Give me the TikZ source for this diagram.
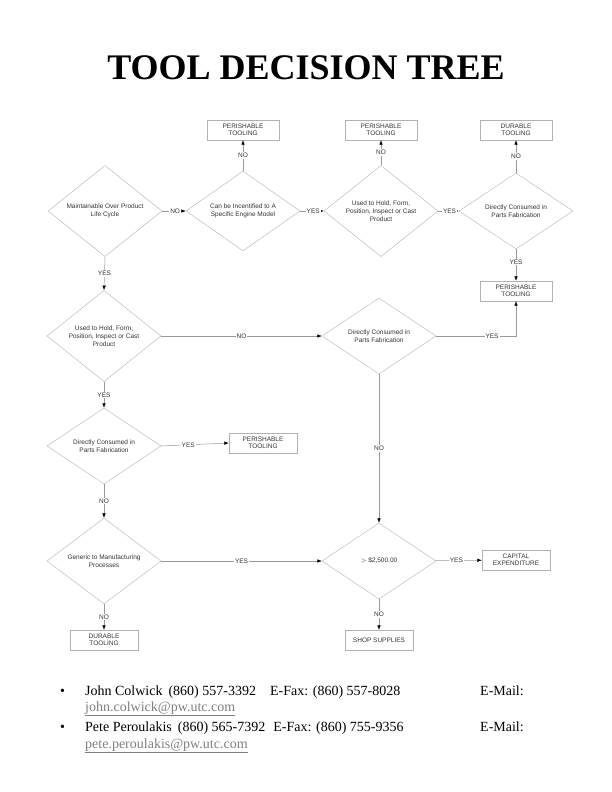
\documentclass[tikz,border=0pt]{standalone}
\usepackage{fontspec}
\setmainfont{Liberation Serif}
\newfontfamily\dsans{Liberation Sans}
\usetikzlibrary{shapes.geometric,arrows.meta}
\begin{document}
\begin{tikzpicture}[x=1pt,y=-1pt,
 dia/.style={draw=gray!60,diamond,minimum width=114pt,minimum height=76pt,inner sep=0pt,align=center,font=\dsans\fontsize{6.5}{8}\selectfont,text=black!80},
 bx/.style={draw=gray!60,minimum width=72pt,minimum height=20pt,inner sep=1pt,align=center,font=\dsans\fontsize{6.5}{7.5}\selectfont,text=black!80},
 ar/.style={draw=gray!80,-{Latex[length=4.5pt,width=3.5pt,color=black]},line width=0.5pt},
 lb/.style={fill=white,inner sep=1pt,font=\dsans\fontsize{6.5}{7.5}\selectfont,text=black!80}]
\useasboundingbox (0,0) rectangle (612,792);
\node[font=\bfseries\fontsize{36}{40}\selectfont] (title) at (306,68) {TOOL DECISION TREE};
% row 1
\node[dia] (d1) at (105,211) {Maintainable Over Product\\Life Cycle};
\node[dia] (d2) at (243,211) {Can be Incentified to A\\Specific Engine Model};
\node[dia] (d3) at (381,211) {Used to Hold, Form,\\Position, Inspect or Cast\\Product};
\node[dia] (d4) at (516,211) {Directly Consumed in\\Parts Fabrication};
\node[bx] (b2) at (243,130) {PERISHABLE\\TOOLING};
\node[bx] (b3) at (381,130) {PERISHABLE\\TOOLING};
\node[bx] (b4) at (516,130) {DURABLE\\TOOLING};
\node[bx] (b5) at (516,291) {PERISHABLE\\TOOLING};
% row 2
\node[dia] (d5) at (104,336) {Used to Hold, Form,\\Position, Inspect or Cast\\Product};
\node[dia] (d6) at (379,336) {Directly Consumed in\\Parts Fabrication};
% row 3
\node[dia] (d7) at (104,446) {Directly Consumed in\\Parts Fabrication};
\node[bx,minimum width=68pt] (b7) at (263,443) {PERISHABLE\\TOOLING};
% row 4
\node[dia] (d8) at (104,561) {Generic to Manufacturing\\Processes};
\node[dia] (d9) at (379,561) {$>$ \$2,500.00};
\node[bx,minimum width=68pt] (cap) at (516,560) {CAPITAL\\EXPENDITURE};
\node[bx,minimum width=68pt] (shop) at (379,640) {SHOP SUPPLIES};
\node[bx,minimum width=68pt] (dur) at (104,640) {DURABLE\\TOOLING};
% connectors
\draw[ar] (d1) -- node[lb,pos=0.55]{NO} (d2);
\draw[ar] (d2) -- node[lb,pos=0.55]{YES} (d3);
\draw[ar] (d3) -- node[lb,pos=0.55]{YES} (d4);
\draw[ar] (d2) -- node[lb]{NO} (b2);
\draw[ar] (d3) -- node[lb]{NO} (b3);
\draw[ar] (d4) -- node[lb]{NO} (b4);
\draw[ar] (d4) -- node[lb,pos=0.4]{YES} (b5);
\draw[ar] (d1.south) -- node[lb]{YES} (d5.north);
\draw[ar] (d5) -- node[lb]{NO} (d6);
\draw[ar] (d6.east) -- node[lb,pos=0.7]{YES} (b5.south |- d6.east) -- (b5.south);
\draw[ar] (d5) -- node[lb]{YES} (d7);
\draw[ar] (d7.east) -- node[lb,pos=0.4]{YES} (b7.west);
\draw[ar] (d7) -- node[lb]{NO} (d8);
\draw[ar] (d8) -- node[lb]{YES} (d9);
\draw[ar] (d6) -- node[lb]{NO} (d9);
\draw[ar] (d9) -- node[lb,pos=0.45]{YES} (cap);
\draw[ar] (d9) -- node[lb]{NO} (shop);
\draw[ar] (d8) -- node[lb]{NO} (dur);
% footer
\begin{scope}[every node/.style={anchor=base west,inner sep=0pt,font=\fontsize{14}{16}\selectfont}]
\node (bu1) at (60,695) {•};
\node (t1) at (85,695) {John Colwick\hspace{6pt}(860) 557-3392\hspace{14pt}E-Fax: (860) 557-8028};
\node (m1) at (480,695) {E-Mail:};
\node[text=gray] (e1) at (85,711) {\underline{john.colwick@pw.utc.com}};
\node (bu2) at (60,731) {•};
\node (t2) at (85,731) {Pete Peroulakis\hspace{6pt}(860) 565-7392\hspace{8pt}E-Fax: (860) 755-9356};
\node (m2) at (480,731) {E-Mail:};
\node[text=gray] (e2) at (85,748) {\underline{pete.peroulakis@pw.utc.com}};
\end{scope}
\end{tikzpicture}
\end{document}
